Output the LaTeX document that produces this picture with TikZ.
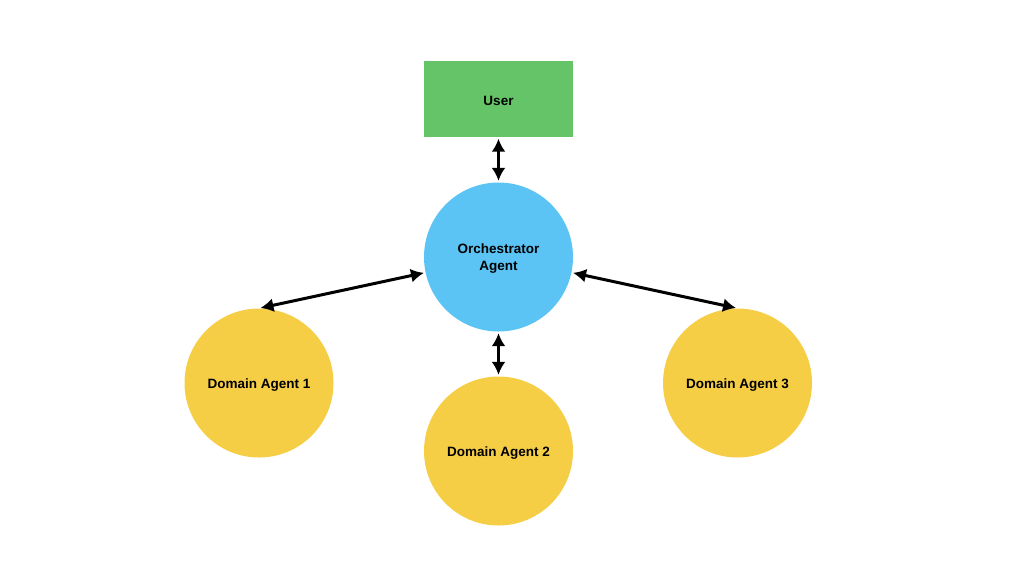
\documentclass[tikz,border=0pt]{standalone}
\usepackage{fontspec}
\setmainfont{Liberation Sans}
\usetikzlibrary{arrows.meta}
\definecolor{usergreen}{RGB}{102,196,104}
\definecolor{orchblue}{RGB}{91,196,245}
\definecolor{agentyellow}{RGB}{246,206,70}
\newcommand{\lowr}[1]{\raisebox{-2pt}[\height][\depth]{#1}}
\tikzset{
  lbl/.style={font=\fontsize{13.5}{17}\selectfont\bfseries, align=center, text=black},
  userbox/.style={lbl, rectangle, fill=usergreen, minimum width=149pt, minimum height=76pt, inner sep=0pt},
  orchnode/.style={lbl, circle, fill=orchblue, minimum size=149pt, inner sep=0pt},
  agentnode/.style={lbl, circle, fill=agentyellow, minimum size=149pt, inner sep=0pt},
  link/.style={line width=3pt, {Latex[length=13pt,width=14pt]}-{Latex[length=13pt,width=14pt]}, shorten <=1.5pt, shorten >=1.5pt}
}
\begin{document}
\begin{tikzpicture}[x=1pt,y=-1pt]
\useasboundingbox (0,0) rectangle (1032,566);
\node[userbox] (user) at (498.5,99) {\lowr{User}};
\node[orchnode] (orch) at (498.5,257) {\lowr{Orchestrator}\\\lowr{Agent}};
\node[agentnode] (a1) at (259,383) {\lowr{Domain Agent 1}};
\node[agentnode] (a2) at (498.5,451) {\lowr{Domain Agent 2}};
\node[agentnode] (a3) at (737.5,383) {\lowr{Domain Agent 3}};
\draw[link] (user.south) -- (orch.north);
\draw[link] (orch.south) -- (a2.north);
\draw[link] (orch.192) -- (a1.north);
\draw[link] (orch.-12) -- (a3.north);
\end{tikzpicture}
\end{document}
